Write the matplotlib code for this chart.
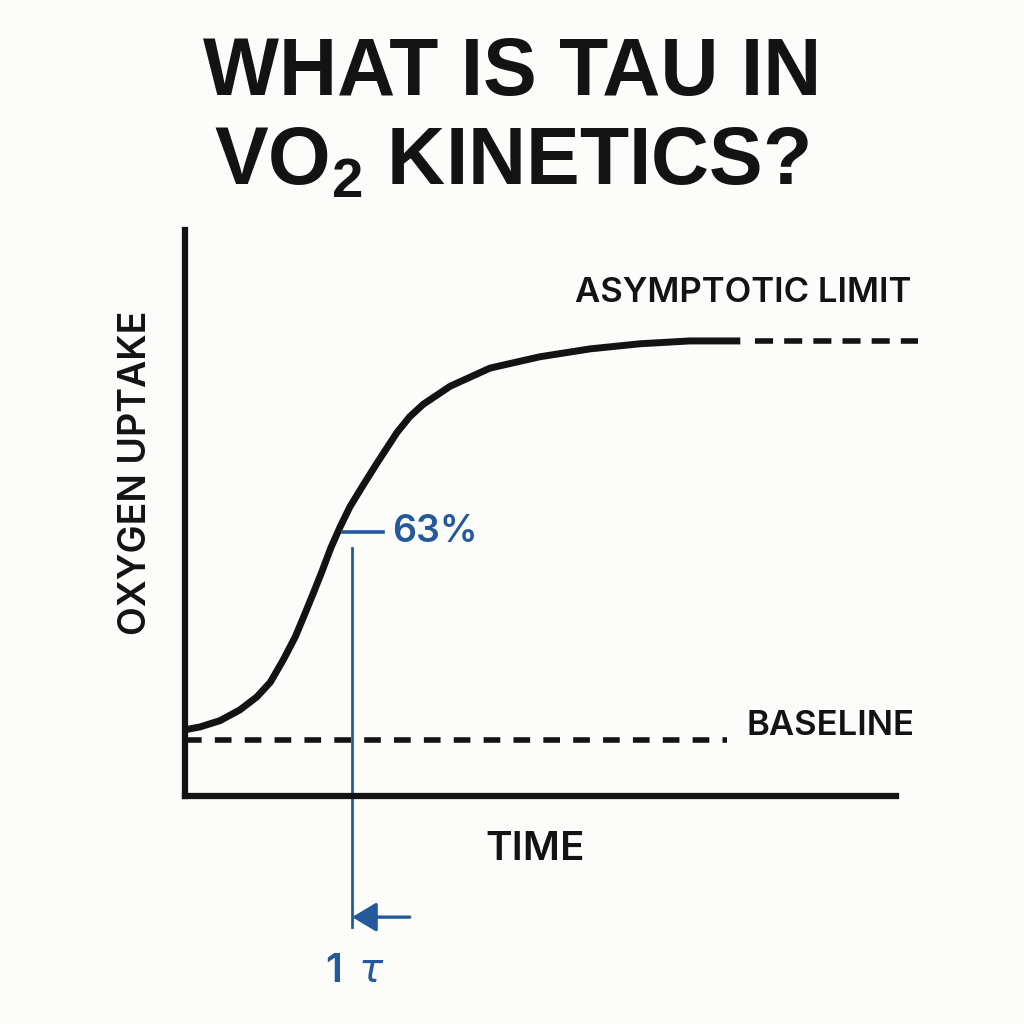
import numpy as np
import matplotlib
matplotlib.use("Agg")
import matplotlib.pyplot as plt

plt.rcParams['lines.scale_dashes'] = False
plt.rcParams['mathtext.fontset'] = 'custom'
plt.rcParams['mathtext.bf'] = 'Liberation Sans:bold'
plt.rcParams['mathtext.rm'] = 'Liberation Sans:bold'
plt.rcParams['mathtext.it'] = 'DejaVu Sans:italic'

# Curve (time, oxygen uptake), arbitrary units 0-100
curve_t = [0.0, 2.1, 4.9, 7.7, 10.1, 12.0, 13.8, 15.5, 16.9, 18.1, 19.3, 20.5, 21.8,
           23.2, 24.9, 27.0, 29.8, 31.6, 33.5, 37.3, 42.9, 49.9, 57.0, 64.0, 71.0, 78.1]
curve_vo2 = [11.7, 12.2, 13.3, 15.2, 17.5, 20.1, 24.0, 28.1, 32.3, 36.0, 39.8, 43.8, 47.5,
             51.1, 54.6, 58.8, 64.2, 67.0, 69.2, 72.4, 75.6, 77.6, 79.0, 79.9, 80.4, 80.4]

baseline_t = [0.0, 76.2]
baseline_vo2 = [9.9, 9.9]
asym_t = [80.2, 103.1]
asym_vo2 = [80.4, 80.4]

tau_t = 23.5          # one time constant
tau_pct = 46.6        # level of the 63% mark
tick_t = [22.2, 27.8]
vline_vo2 = [43.8, -23.1]
arrow_tail_t = 31.6
arrow_vo2 = -21.4

BLACK = '#131313'
BLUE = '#245a9c'
BG = '#fcfcfa'
LABEL_FONT = ['Inter', 'DejaVu Sans']

fig = plt.figure(figsize=(10.24, 10.24), dpi=100, facecolor=BG)
ax = fig.add_axes([185 / 1024, (1024 - 796) / 1024, (896 - 185) / 1024, (796 - 230) / 1024])
ax.set_facecolor(BG)
ax.set_xlim(0, 100)
ax.set_ylim(0, 100)
for s in ['top', 'right']:
    ax.spines[s].set_visible(False)
for s in ['left', 'bottom']:
    ax.spines[s].set_linewidth(4.5)
    ax.spines[s].set_color(BLACK)
    ax.spines[s].set_capstyle('projecting')
ax.set_xticks([])
ax.set_yticks([])

# main response curve
ax.plot(curve_t, curve_vo2, color=BLACK, lw=5, solid_capstyle='butt',
        solid_joinstyle='round', clip_on=False)
ax.plot(baseline_t, baseline_vo2, color=BLACK, lw=4, dashes=(12, 9.5), clip_on=False)
ax.plot(asym_t, asym_vo2, color=BLACK, lw=4, dashes=(13, 8), clip_on=False)

# tau markers
ax.plot(tick_t, [tau_pct, tau_pct], color=BLUE, lw=2.6, clip_on=False)
ax.plot([tau_t, tau_t], vline_vo2, color=BLUE, lw=2, clip_on=False)
ax.annotate('', xy=(tau_t, arrow_vo2), xytext=(arrow_tail_t, arrow_vo2),
            arrowprops=dict(arrowstyle='-|>,head_length=0.75,head_width=0.45',
                            mutation_scale=20, color=BLUE, lw=2.4,
                            shrinkA=0, shrinkB=0),
            annotation_clip=False)

ax.text(29.1, tau_pct, '63%', color=BLUE, fontsize=27, family=LABEL_FONT,
        weight='semibold', ha='left', va='center', clip_on=False)
ax.text(23.9, -32.9, r'1 $\,\tau$', color=BLUE, fontsize=29, family=LABEL_FONT,
        weight='semibold', ha='center', va='baseline', clip_on=False)

ax.text(102.2, 87.3, 'ASYMPTOTIC LIMIT', color=BLACK, fontsize=25, family=LABEL_FONT,
        weight='semibold', ha='right', va='baseline', clip_on=False)
ax.text(79.0, 10.8, 'BASELINE', color=BLACK, fontsize=25, family=LABEL_FONT,
        weight='semibold', ha='left', va='baseline', clip_on=False)
ax.text(49.2, -11.3, 'TIME', color=BLACK, fontsize=29, family=LABEL_FONT,
        weight='semibold', ha='center', va='baseline', clip_on=False)
ax.text(-6.9, 57.1, 'OXYGEN UPTAKE', color=BLACK, fontsize=27, family=LABEL_FONT,
        weight='semibold', rotation=90, ha='center', va='center', clip_on=False)

# title
fig.text(0.5, 1 - 95 / 1024, 'WHAT IS TAU IN', color=BLACK, fontsize=58,
         family='Liberation Sans', weight='bold', ha='center', va='baseline')
fig.text(0.5, 1 - 185 / 1024, r'VO$_\mathbf{2}$ KINETICS?', color=BLACK, fontsize=58,
         family='Liberation Sans', weight='bold', ha='center', va='baseline')

fig.savefig('out.png', dpi=100, facecolor=BG)
